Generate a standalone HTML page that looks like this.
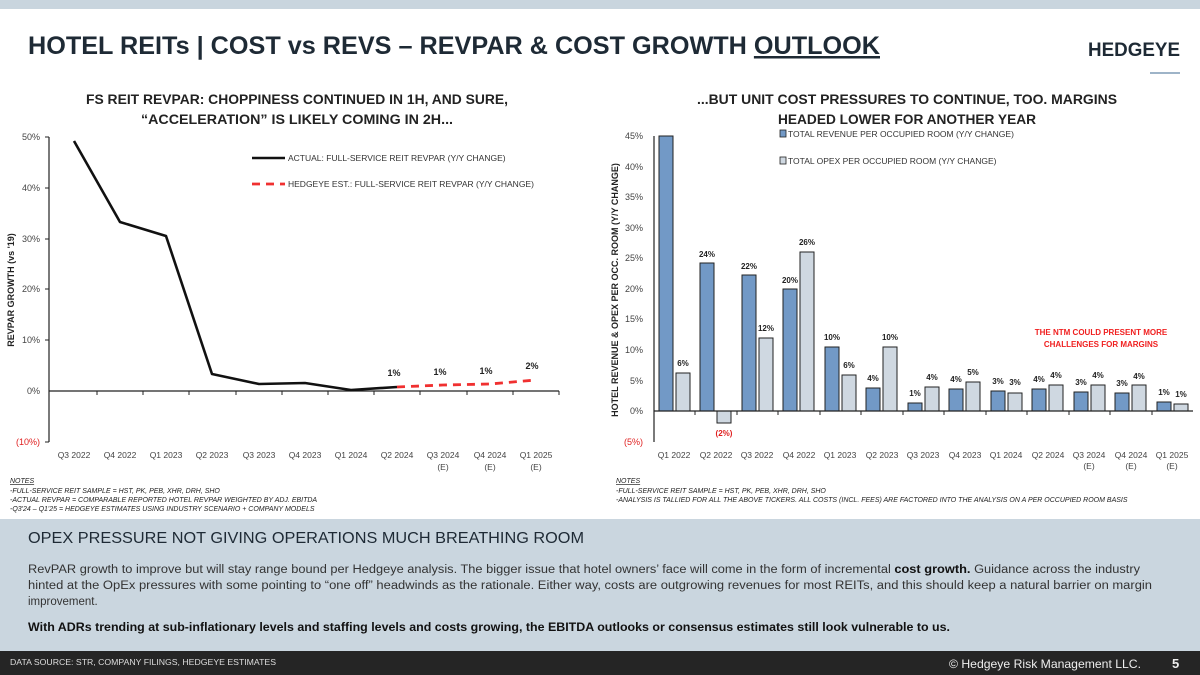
<!DOCTYPE html>
<html><head><meta charset="utf-8"><style>
html,body{margin:0;padding:0;background:#fff}
svg{display:block}
text{font-family:"Liberation Sans Narrow","Liberation Sans",sans-serif}
</style></head><body>
<svg width="1200" height="675" viewBox="0 0 1200 675" xmlns="http://www.w3.org/2000/svg">
<rect x="0" y="0" width="1200" height="9" fill="#c9d5de"/>
<text x="28" y="54" font-size="25" font-weight="bold" fill="#1e2a35" textLength="852" lengthAdjust="spacingAndGlyphs">HOTEL REITs | COST vs REVS – REVPAR &amp; COST GROWTH <tspan text-decoration="underline">OUTLOOK</tspan></text>
<line x1="760" y1="57" x2="880" y2="57" stroke="#1e2a35" stroke-width="1.5"/>
<text x="1088" y="56" font-size="19" font-weight="bold" fill="#1e2a35" textLength="92" lengthAdjust="spacingAndGlyphs">HEDGEYE</text>
<line x1="1150" y1="73" x2="1180" y2="73" stroke="#7f9cb5" stroke-width="1.5"/>

<!-- LEFT CHART -->
<g font-weight="bold" fill="#222">
<text x="297" y="104" font-size="13.5" text-anchor="middle" textLength="422" lengthAdjust="spacingAndGlyphs">FS REIT REVPAR: CHOPPINESS CONTINUED IN 1H, AND SURE,</text>
<text x="297" y="124" font-size="13.5" text-anchor="middle" textLength="312" lengthAdjust="spacingAndGlyphs">“ACCELERATION” IS LIKELY COMING IN 2H...</text>
</g>
<g font-size="9" fill="#444" text-anchor="end">
<text x="40" y="140">50%</text><text x="40" y="191">40%</text><text x="40" y="242">30%</text>
<text x="40" y="292">20%</text><text x="40" y="343">10%</text><text x="40" y="394">0%</text>
<text x="40" y="445" fill="#e02020">(10%)</text>
</g>
<text transform="translate(14,290) rotate(-90)" font-size="9" font-weight="bold" fill="#222" text-anchor="middle">REVPAR GROWTH (vs '19)</text>
<line x1="49" y1="137" x2="49" y2="442" stroke="#222" stroke-width="1.2"/>
<g stroke="#222" stroke-width="1">
<line x1="45" y1="137" x2="49" y2="137"/><line x1="45" y1="188" x2="49" y2="188"/><line x1="45" y1="239" x2="49" y2="239"/><line x1="45" y1="289" x2="49" y2="289"/><line x1="45" y1="340" x2="49" y2="340"/><line x1="45" y1="442" x2="49" y2="442"/>
</g>
<line x1="49" y1="391" x2="559" y2="391" stroke="#222" stroke-width="1.2"/>
<g stroke="#222" stroke-width="1">
<line x1="97" y1="391" x2="97" y2="395"/><line x1="143" y1="391" x2="143" y2="395"/><line x1="189" y1="391" x2="189" y2="395"/><line x1="236" y1="391" x2="236" y2="395"/><line x1="282" y1="391" x2="282" y2="395"/><line x1="328" y1="391" x2="328" y2="395"/><line x1="374" y1="391" x2="374" y2="395"/><line x1="420" y1="391" x2="420" y2="395"/><line x1="467" y1="391" x2="467" y2="395"/><line x1="513" y1="391" x2="513" y2="395"/><line x1="559" y1="391" x2="559" y2="395"/>
</g>
<polyline fill="none" stroke="#111" stroke-width="2.6" stroke-linejoin="round" points="74,141 120,222 166,236 212,374 259,384 305,383 351,390 397,387"/>
<polyline fill="none" stroke="#f03030" stroke-width="2.8" stroke-dasharray="8,6" points="397,387 443,385 490,384 536,380"/>
<g font-size="9" font-weight="bold" fill="#222" text-anchor="middle">
<text x="394" y="376">1%</text><text x="440" y="375">1%</text><text x="486" y="374">1%</text><text x="532" y="369">2%</text>
</g>
<g font-size="8.5" fill="#444" text-anchor="middle">
<text x="74" y="458">Q3 2022</text><text x="120" y="458">Q4 2022</text><text x="166" y="458">Q1 2023</text><text x="212" y="458">Q2 2023</text><text x="259" y="458">Q3 2023</text><text x="305" y="458">Q4 2023</text><text x="351" y="458">Q1 2024</text><text x="397" y="458">Q2 2024</text><text x="443" y="458">Q3 2024</text><text x="490" y="458">Q4 2024</text><text x="536" y="458">Q1 2025</text>
<text x="443" y="470">(E)</text><text x="490" y="470">(E)</text><text x="536" y="470">(E)</text>
</g>
<line x1="252" y1="158" x2="285" y2="158" stroke="#111" stroke-width="2.6"/>
<text x="288" y="161" font-size="8.5" fill="#333">ACTUAL: FULL-SERVICE REIT REVPAR (Y/Y CHANGE)</text>
<line x1="252" y1="184" x2="285" y2="184" stroke="#f03030" stroke-width="2.8" stroke-dasharray="8,6"/>
<text x="288" y="187" font-size="8.5" fill="#333">HEDGEYE EST.: FULL-SERVICE REIT REVPAR (Y/Y CHANGE)</text>
<g font-size="7" font-style="italic" fill="#222">
<text x="10" y="483" text-decoration="underline">NOTES</text>
<text x="10" y="493">-FULL-SERVICE REIT SAMPLE = HST, PK, PEB, XHR, DRH, SHO</text>
<text x="10" y="502">-ACTUAL REVPAR = COMPARABLE REPORTED HOTEL REVPAR WEIGHTED BY ADJ. EBITDA</text>
<text x="10" y="511">-Q3'24 – Q1'25 = HEDGEYE ESTIMATES USING INDUSTRY SCENARIO + COMPANY MODELS</text>
</g>

<!-- RIGHT CHART -->
<g font-weight="bold" fill="#222">
<text x="907" y="104" font-size="13.5" text-anchor="middle" textLength="420" lengthAdjust="spacingAndGlyphs">...BUT UNIT COST PRESSURES TO CONTINUE, TOO. MARGINS</text>
<text x="907" y="124" font-size="13.5" text-anchor="middle" textLength="258" lengthAdjust="spacingAndGlyphs">HEADED LOWER FOR ANOTHER YEAR</text>
</g>
<g font-size="9" fill="#444" text-anchor="end">
<text x="643" y="139">45%</text><text x="643" y="170">40%</text><text x="643" y="200">35%</text><text x="643" y="231">30%</text><text x="643" y="261">25%</text><text x="643" y="292">20%</text><text x="643" y="322">15%</text><text x="643" y="353">10%</text><text x="643" y="384">5%</text><text x="643" y="414">0%</text>
<text x="643" y="445" fill="#e02020">(5%)</text>
</g>
<text transform="translate(618,290) rotate(-90)" font-size="9" font-weight="bold" fill="#222" text-anchor="middle">HOTEL REVENUE &amp; OPEX  PER OCC. ROOM (Y/Y CHANGE)</text>
<g fill="#7299c6" stroke="#222" stroke-width="1">
<rect x="659" y="136" width="14" height="275"/>
<rect x="700" y="263" width="14" height="148"/>
<rect x="742" y="275" width="14" height="136"/>
<rect x="783" y="289" width="14" height="122"/>
<rect x="825" y="347" width="14" height="64"/>
<rect x="866" y="388" width="14" height="23"/>
<rect x="908" y="403" width="14" height="8"/>
<rect x="949" y="389" width="14" height="22"/>
<rect x="991" y="391" width="14" height="20"/>
<rect x="1032" y="389" width="14" height="22"/>
<rect x="1074" y="392" width="14" height="19"/>
<rect x="1115" y="393" width="14" height="18"/>
<rect x="1157" y="402" width="14" height="9"/>
</g>
<g fill="#cfd8e1" stroke="#222" stroke-width="1">
<rect x="676" y="373" width="14" height="38"/>
<rect x="717" y="411" width="14" height="12"/>
<rect x="759" y="338" width="14" height="73"/>
<rect x="800" y="252" width="14" height="159"/>
<rect x="842" y="375" width="14" height="36"/>
<rect x="883" y="347" width="14" height="64"/>
<rect x="925" y="387" width="14" height="24"/>
<rect x="966" y="382" width="14" height="29"/>
<rect x="1008" y="393" width="14" height="18"/>
<rect x="1049" y="385" width="14" height="26"/>
<rect x="1091" y="385" width="14" height="26"/>
<rect x="1132" y="385" width="14" height="26"/>
<rect x="1174" y="404" width="14" height="7"/>
</g>
<line x1="654" y1="136" x2="654" y2="442" stroke="#222" stroke-width="1.2"/>
<line x1="654" y1="411" x2="1193" y2="411" stroke="#222" stroke-width="1.2"/>
<g stroke="#222" stroke-width="1">
<line x1="695" y1="411" x2="695" y2="415"/><line x1="737" y1="411" x2="737" y2="415"/><line x1="778" y1="411" x2="778" y2="415"/><line x1="820" y1="411" x2="820" y2="415"/><line x1="861" y1="411" x2="861" y2="415"/><line x1="903" y1="411" x2="903" y2="415"/><line x1="944" y1="411" x2="944" y2="415"/><line x1="986" y1="411" x2="986" y2="415"/><line x1="1027" y1="411" x2="1027" y2="415"/><line x1="1069" y1="411" x2="1069" y2="415"/><line x1="1110" y1="411" x2="1110" y2="415"/><line x1="1152" y1="411" x2="1152" y2="415"/>
</g>
<g font-size="8" font-weight="bold" fill="#222" text-anchor="middle">
<text x="683" y="366">6%</text>
<text x="707" y="257">24%</text><text x="749" y="269">22%</text><text x="766" y="331">12%</text>
<text x="790" y="283">20%</text><text x="807" y="245">26%</text>
<text x="832" y="340">10%</text><text x="849" y="368">6%</text>
<text x="873" y="381">4%</text><text x="890" y="340">10%</text>
<text x="915" y="396">1%</text><text x="932" y="380">4%</text>
<text x="956" y="382">4%</text><text x="973" y="375">5%</text>
<text x="998" y="384">3%</text><text x="1015" y="385">3%</text>
<text x="1039" y="382">4%</text><text x="1056" y="378">4%</text>
<text x="1081" y="385">3%</text><text x="1098" y="378">4%</text>
<text x="1122" y="386">3%</text><text x="1139" y="379">4%</text>
<text x="1164" y="395">1%</text><text x="1181" y="397">1%</text>
<text x="724" y="436" fill="#e02020">(2%)</text>
</g>
<g font-size="8.5" fill="#444" text-anchor="middle">
<text x="674" y="458">Q1 2022</text><text x="716" y="458">Q2 2022</text><text x="757" y="458">Q3 2022</text><text x="799" y="458">Q4 2022</text><text x="840" y="458">Q1 2023</text><text x="882" y="458">Q2 2023</text><text x="923" y="458">Q3 2023</text><text x="965" y="458">Q4 2023</text><text x="1006" y="458">Q1 2024</text><text x="1048" y="458">Q2 2024</text><text x="1089" y="458">Q3 2024</text><text x="1131" y="458">Q4 2024</text><text x="1172" y="458">Q1 2025</text>
<text x="1089" y="469">(E)</text><text x="1131" y="469">(E)</text><text x="1172" y="469">(E)</text>
</g>
<rect x="780" y="130" width="6" height="7" fill="#7299c6" stroke="#222" stroke-width="0.8"/>
<text x="788" y="137" font-size="8.5" fill="#333">TOTAL REVENUE PER OCCUPIED ROOM (Y/Y CHANGE)</text>
<rect x="780" y="157" width="6" height="7" fill="#cfd8e1" stroke="#222" stroke-width="0.8"/>
<text x="788" y="164" font-size="8.5" fill="#333">TOTAL OPEX PER OCCUPIED ROOM (Y/Y CHANGE)</text>
<g font-size="8" font-weight="bold" fill="#f02020" text-anchor="middle">
<text x="1101" y="335">THE NTM COULD PRESENT MORE</text>
<text x="1101" y="347">CHALLENGES FOR MARGINS</text>
</g>
<g font-size="7" font-style="italic" fill="#222">
<text x="616" y="483" text-decoration="underline">NOTES</text>
<text x="616" y="493">-FULL-SERVICE REIT SAMPLE = HST, PK, PEB, XHR, DRH, SHO</text>
<text x="616" y="502">-ANALYSIS IS TALLIED FOR ALL THE ABOVE TICKERS.  ALL COSTS (INCL. FEES) ARE FACTORED INTO THE ANALYSIS ON A PER OCCUPIED ROOM BASIS</text>
</g>

<!-- BOTTOM PANEL -->
<rect x="0" y="519" width="1200" height="132" fill="#cad6df"/>
<text x="28" y="543" font-size="16" fill="#1e2a35" textLength="556" lengthAdjust="spacingAndGlyphs">OPEX PRESSURE NOT GIVING OPERATIONS MUCH BREATHING ROOM</text>
<g font-size="11.5" fill="#333">
<text x="28" y="573" textLength="1112" lengthAdjust="spacingAndGlyphs">RevPAR growth to improve but will stay range bound per Hedgeye analysis. The bigger issue that hotel owners’ face will come in the form of incremental <tspan font-weight="bold" fill="#111">cost growth.</tspan>  Guidance across the industry</text>
<text x="28" y="589" textLength="1124" lengthAdjust="spacingAndGlyphs">hinted at the OpEx pressures with some pointing to “one off” headwinds as the rationale.  Either way, costs are outgrowing revenues for most REITs, and this should keep a natural barrier on margin</text>
<text x="28" y="605">improvement.</text>
<text x="28" y="631" font-weight="bold" fill="#111" textLength="922" lengthAdjust="spacingAndGlyphs">With ADRs trending at sub-inflationary levels and staffing levels and costs growing, the EBITDA outlooks or consensus estimates still look vulnerable to us.</text>
</g>
<rect x="0" y="651" width="1200" height="24" fill="#252525"/>
<text x="10" y="665" font-size="8" fill="#ddd" textLength="266" lengthAdjust="spacingAndGlyphs">DATA SOURCE: STR, COMPANY FILINGS, HEDGEYE ESTIMATES</text>
<text x="949" y="668" font-size="12" fill="#eee" textLength="192" lengthAdjust="spacingAndGlyphs">© Hedgeye Risk Management LLC.</text>
<text x="1172" y="668" font-size="13" font-weight="bold" fill="#eee">5</text>
</svg>
</body></html>
